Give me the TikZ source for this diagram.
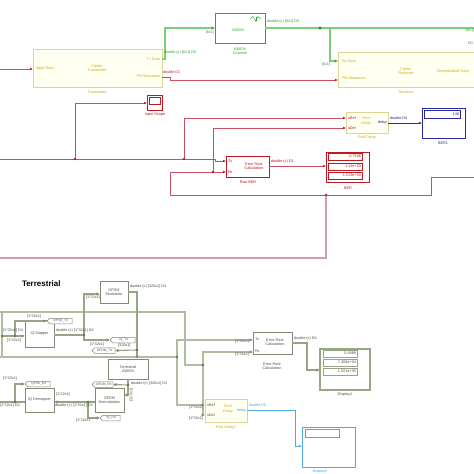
\documentclass[tikz,border=0pt]{standalone}
\usepackage{fontspec}
\setmainfont{Liberation Sans}
\usetikzlibrary{arrows.meta,shapes.symbols}
\definecolor{rln}{RGB}{200,80,100}
\definecolor{rlnl}{RGB}{210,160,172}
\definecolor{rtx}{RGB}{192,24,32}
\definecolor{ybd}{RGB}{222,212,150}
\definecolor{ytx}{RGB}{200,176,20}
\definecolor{yfill}{RGB}{255,255,242}
\definecolor{gln}{RGB}{120,208,120}
\definecolor{gbd}{RGB}{70,150,70}
\definecolor{gtx}{RGB}{48,160,48}
\definecolor{bln}{RGB}{40,40,160}
\definecolor{olvthick}{RGB}{176,190,158}
\definecolor{olvthin}{RGB}{150,166,130}
\definecolor{obd}{RGB}{130,138,118}
\definecolor{otx}{RGB}{80,80,80}
\definecolor{lbl}{RGB}{80,168,224}
\begin{document}
\begin{tikzpicture}[x=1pt,y=-1pt,
  every node/.style={inner sep=0pt, outer sep=0pt},
  lab/.style={font=\fontsize{3.8}{4.4}\selectfont},
  blk/.style={draw, rectangle, line width=0.7pt},
  tipR/.style={-{Latex[length=3pt,width=2.6pt,color=rtx]}},
  tipG/.style={-{Latex[length=3.5pt,width=3.5pt,color=gbd]}},
  tipO/.style={-{Latex[length=3.5pt,width=3.5pt,color=obd]}},
  redwire/.style={draw=rln, line width=0.9pt},
  grnwire/.style={draw=gln, line width=2.2pt},
  olthick/.style={draw=olvthick, line width=2.4pt},
  olthin/.style={draw=olvthin, line width=1.1pt},
  gtag/.style={signal, signal to=west, draw=obd, fill=white, line width=0.5pt, minimum width=25pt, minimum height=5.5pt, font=\fontsize{3.2}{3.6}\selectfont, text=otx},
]
\useasboundingbox (0,0) rectangle (474,474);
\clip (0,0) rectangle (474,474);
\fill[white] (0,0) rectangle (474,474);

%================ TOP SECTION =================
% Transmitter
\node[blk, draw=ybd, fill=yfill, minimum width=129pt, minimum height=38pt] (tx) at (97.5,68) {};
\node[lab, text=ytx, anchor=west] (txi) at (36,69) {Input Data};
\node[lab, text=ytx, align=center] (txc) at (97,68) {Cipher\\Transmitter};
\node[lab, text=ytx, anchor=east] (txo1) at (160,59) {Tx Data};
\node[lab, text=ytx, anchor=east] (txo2) at (160,77) {PN Sequence};
\node[lab, text=ytx] (txl) at (97,92) {Transmitter};
\coordinate (inL) at (0,69);
\coordinate (txIn) at (33,69);
\coordinate (txD) at (162,59);
\coordinate (txP) at (162,77);
\draw[redwire, tipR] (inL) -- (txIn);

% AWGN channel
\node[blk, draw=gbd, fill=white, minimum width=50pt, minimum height=30pt] (awgn) at (240,28) {};
\node[lab, text=gtx] (awgnt) at (238,30) {AWGN};
\draw[gtx, line width=0.4pt] (250,19) -- (253,16.5) -- (255.5,21) -- (258,16.5) -- (261,19);
\draw[gtx, line width=0.4pt, -{Latex[length=1.5pt,width=1.5pt]}] (256,17) -- (256,22);
\node[lab, text=gtx, align=center] (awgnl) at (240,51) {AWGN\\Channel};
\coordinate (awIn) at (215,28);
\coordinate (awOut) at (265,28);
\draw[grnwire, tipG] (txD) -- (165,59) -- (165,28) -- (awIn);
\node[lab, text=gtx, anchor=west] (lb1) at (164,53) {double (c) [6x1] D0};
\node[lab, text=gtx, anchor=east] (lb2) at (214,33) {[6x1]};
\coordinate (j1) at (320,28);
\coordinate (outR) at (474,28);
\coordinate (rxIn) at (338,61);
\draw[grnwire] (awOut) -- (j1) -- (outR);
\draw[grnwire, tipG] (j1) -- (330,28) -- (330,61) -- (rxIn);
\fill[gbd!80!black] (j1) circle (1.6);
\node[lab, text=gtx, anchor=west] (lb3) at (267,22) {double (c) [6x1] D0};
\node[lab, text=gtx, anchor=east] (lb4) at (330,65) {[6x1]};
\node[lab, text=gtx, anchor=west] (lb5) at (466,31) {[6x1]};
\node[lab, text=gtx, anchor=west] (lb6) at (468,43) {D0};

% Receiver
\node[blk, draw=ybd, fill=yfill, minimum width=182pt, minimum height=35pt] (rx) at (429,69.5) {};
\node[lab, text=ytx, anchor=west] (rxi1) at (342,61) {Rx Data};
\node[lab, text=ytx, anchor=west] (rxi2) at (342,79) {PN Sequence};
\node[lab, text=ytx, align=center] (rxc) at (406,71) {Cipher\\Receiver};
\node[lab, text=ytx, anchor=west] (rxo) at (437,71) {Demodulated Data};
\node[lab, text=ytx] (rxl) at (406,92) {Receiver};
\coordinate (rxP) at (338,80);
\draw[redwire, tipR] (txP) -- (170,77) -- (170,80) -- (rxP);
\node[lab, text=rtx, anchor=west] (lb7) at (163,72) {double D1};

% Input scope
\node[blk, draw=rtx, fill=white, minimum width=15pt, minimum height=15pt] (scope) at (154.5,102.5) {};
\draw[rtx, line width=0.4pt] (149,97) rectangle (160,104);
\node[lab, text=rtx] (scopel) at (155,115) {Input Scope};
\coordinate (scIn) at (147,103);

% Tx reference line
\coordinate (inL2) at (0,159);
\coordinate (j2) at (75,159);
\coordinate (j3) at (184,159);
\coordinate (erTx) at (226,161);
\coordinate (erRx) at (226,172);
\coordinate (fdRef) at (346,118);
\coordinate (fdDel) at (346,128);
\draw[redwire, tipR] (inL2) -- (215,159) -- (215,161) -- (erTx);
\draw[redwire, tipR] (j2) |- (scIn);
\draw[redwire, tipR] (j3) |- (fdRef);
% Rx line loop
\coordinate (inR) at (474,177);
\coordinate (j4) at (213,172);
\coordinate (j5) at (326,195);
\coordinate (botL) at (0,258);
\draw[redwire, tipR] (inR) -- (431,177) -- (431,195) -- (170,195) -- (170,172) -- (erRx);
\draw[redwire, tipR] (j4) |- (fdDel);
\draw[draw=rlnl, line width=1.3pt] (j5) |- (botL);
\foreach \p in {j2,j3,j4,j5} \fill[rtx] (\p) circle (1.3);

% Error rate calc (top)
\node[blk, draw=rtx, fill=white, minimum width=43pt, minimum height=21pt] (er) at (247.5,166.5) {};
\node[lab, text=rtx, align=center] (erc) at (254,166) {Error Rate\\Calculation};
\node[lab, text=rtx, anchor=west] (ertx) at (228,161) {Tx};
\node[lab, text=rtx, anchor=west] (errx) at (228,172) {Rx};
\node[lab, text=rtx] (erl) at (248,182) {Raw BER};
\coordinate (erOut) at (269,166);
\coordinate (berIn) at (326,166);
\draw[redwire, tipR] (erOut) -- (berIn);
\node[lab, text=rtx, anchor=west] (lb8) at (271,162) {double (c) D1};

% BER display
\node[blk, draw=rtx, line width=1pt, fill=white, minimum width=43pt, minimum height=30pt] (ber) at (347.5,167) {};
\node[draw=rtx, line width=0.6pt, minimum width=34pt, minimum height=7pt, text width=32pt, align=right, lab, text=rtx] (b1) at (345,156.5) {0.7506};
\node[draw=rtx, line width=0.6pt, minimum width=34pt, minimum height=7pt, text width=32pt, align=right, lab, text=rtx] (b2) at (345,166.5) {1.14e+03};
\node[draw=rtx, line width=0.6pt, minimum width=34pt, minimum height=7pt, text width=32pt, align=right, lab, text=rtx] (b3) at (345,175.5) {1.519e+03};
\node[lab, text=rtx] (berl) at (348,188) {BER};

% Find delay (top)
\node[blk, draw=ybd, fill=yfill, minimum width=42pt, minimum height=21pt] (fd) at (367,122.5) {};
\node[lab, text=rtx, anchor=west] (fdr) at (348,118) {sRef};
\node[lab, text=rtx, anchor=west] (fdd) at (348,128) {sDel};
\node[lab, text=ytx, align=center] (fdc) at (366,121) {Find\\Delay};
\node[lab, text=bln, anchor=east] (fdo) at (387,123) {delay};
\node[lab, text=ytx] (fdl) at (367,138) {Find Delay};
\coordinate (fdOut) at (388,123);
\coordinate (ber1In) at (422,123);
\draw[draw=bln, line width=0.7pt, -{Latex[length=3pt,width=2.6pt]}] (fdOut) -- (ber1In);
\node[lab, text=bln, anchor=west] (lb9) at (390,118) {double D0};
\node[blk, draw=bln, line width=1pt, fill=white, minimum width=43pt, minimum height=30pt] (ber1) at (443.5,123) {};
\node[draw=bln, line width=0.6pt, minimum width=36pt, minimum height=8pt, text width=34pt, align=right, lab, text=bln] (ber1v) at (442,114) {148};
\node[lab, text=bln] (ber1l) at (443,143) {BER1};

%================ BOTTOM SECTION =================
\node[anchor=west, font=\fontsize{8}{9}\selectfont\bfseries] (title) at (22,284) {Terrestrial};

% blocks
\node[blk, draw=obd, fill=white, minimum width=28pt, minimum height=22pt] (ofdm) at (114,292) {};
\node[lab, text=otx, align=center] (ofdmt) at (114,292) {OFDM\\Modulator};
\node[blk, draw=obd, fill=white, minimum width=29pt, minimum height=27pt] (iqm) at (39.5,333.5) {};
\node[lab, text=otx] (iqmt) at (39.5,334) {IQ Mapper};
\node[blk, draw=obd, fill=white, minimum width=40pt, minimum height=20pt] (ch) at (128,369) {};
\node[lab, text=otx, align=center] (cht) at (128,369) {Terrestrial\\AWGN};
\node[blk, draw=obd, fill=white, minimum width=29pt, minimum height=24pt] (dm) at (109.5,400) {};
\node[lab, text=otx, align=center] (dmt) at (109.5,400) {OFDM\\Demodulator};
\node[blk, draw=obd, fill=white, minimum width=29pt, minimum height=24pt] (iqd) at (39.5,400) {};
\node[lab, text=otx] (iqdt) at (39.5,400) {IQ Demapper};

% tags
\node[gtag, anchor=west] (tag1) at (47,321) {QPSK\_TX};
\node[gtag, anchor=west] (tag2) at (110,340) {IQ\_TX};
\node[gtag, anchor=west, minimum width=23pt] (tag3) at (92,350.5) {OFDM\_TX};
\node[gtag, anchor=west, minimum width=21pt] (tag4) at (92,384.5) {OFDM\_RX};
\node[gtag, anchor=west, minimum width=20pt] (tag5) at (100,418) {IQ\_RX};
\node[gtag, anchor=west] (tag6) at (25,384) {QPSK\_RX};

% thick olive wires
\coordinate (oL1) at (0,312);
\coordinate (oL2) at (0,357);
\coordinate (lv1) at (2,312);
\coordinate (lv2) at (2,357);
\coordinate (j6) at (203,365);
\coordinate (j7) at (177,357);
\coordinate (j8) at (2,336);
\coordinate (er2Tx) at (253,340);
\coordinate (er2Rx) at (253,352);
\coordinate (fd2Ref) at (205,405);
\coordinate (fd2Del) at (205,415);
\draw[olthick] (oL1) -- (185,312) -- (185,365) -- (j6);
\draw[olthick, tipO] (j6) |- (er2Rx);
\draw[olthick, tipO] (j6) |- (fd2Del);
\draw[olthick] (oL2) -- (j7);
\draw[olthick, tipO] (j7) |- (er2Tx);
\draw[olthick, tipO] (j7) |- (fd2Ref);
\draw[olthick] (lv1) -- (lv2);

% thin olive wires
\coordinate (iqIn) at (25,336);
\coordinate (j9) at (15,336);
\coordinate (iqOut) at (54,335);
\coordinate (j10) at (84,335);
\coordinate (ofdmIn) at (100,294);
\coordinate (ofdmOut) at (128,292);
\coordinate (chIn) at (137,359);
\coordinate (j11) at (137,350);
\coordinate (chOut) at (128,379);
\coordinate (j12) at (128,385);
\coordinate (dmIn) at (124,395);
\coordinate (dmOut) at (95,402);
\coordinate (iqdIn) at (54,402);
\coordinate (j13) at (88,402);
\coordinate (iqdOut) at (25,402);
\coordinate (oL3) at (0,402);
\coordinate (j14) at (15,402);
\draw[olthin, tipO] (j8) -- (iqIn);
\draw[olthin, tipO] (j9) |- (tag1.west);
\draw[olthin] (iqOut) -- (j10);
\draw[olthin, tipO] (j10) |- (ofdmIn);
\draw[olthin, tipO] (j10) |- (tag2.west);
\draw[olthin, tipO] (ofdmOut) -- (137,292) -- (chIn);
\draw[olthin, tipO] (j11) -- (tag3.east);
\draw[olthin, tipO] (chOut) -- (128,395) -- (dmIn);
\draw[olthin, tipO] (j12) -- (tag4.east);
\draw[olthin, tipO] (dmOut) -- (iqdIn);
\draw[olthin, tipO] (j13) |- (tag5.west);
\draw[olthin] (iqdOut) -- (oL3);
\draw[olthin, tipO] (j14) |- (tag6.west);
\foreach \p in {j6,j7,j8,j9,j10,j11,j12,j13,j14} \fill[obd!80!black] (\p) circle (1.4);

% labels (bottom)
\node[lab, text=otx, anchor=east] (c1) at (23,331) {[1*32x1] D4};
\node[lab, text=otx, anchor=west] (c2) at (7,341) {[1*32x1]};
\node[lab, text=otx, anchor=west] (c3) at (27,317) {[1*32x1]};
\node[lab, text=otx, anchor=west] (c4) at (56,331) {double (c) [1*32x1] D4};
\node[lab, text=otx, anchor=west] (c5) at (86,298) {[1*32x1]};
\node[lab, text=otx, anchor=west] (c6) at (90,345) {[1*32x1]};
\node[lab, text=otx, anchor=west] (c7) at (130,287) {double (c) [320x1] D4};
\node[lab, text=otx, anchor=west] (c8) at (118,346) {[320x1]};
\node[lab, text=otx, anchor=west] (c9) at (131,384) {double (c) [320x1] D4};
\node[lab, text=otx, rotate=90] (c10) at (131.5,395) {[320x1]};
\node[lab, text=otx, anchor=west] (c11) at (56,395) {[1*32x1]};
\node[lab, text=otx, anchor=west] (c12) at (55,406) {double (c) [1*32x1] D4};
\node[lab, text=otx, anchor=west] (c13) at (76,421) {[1*32x1]};
\node[lab, text=otx, anchor=west] (c14) at (3,379) {[1*32x1]};
\node[lab, text=otx, anchor=west] (c15) at (0,406) {[1*32x1] D4};
\node[lab, text=otx, anchor=east] (c16) at (249,342) {[1*32x1]};
\node[lab, text=otx, anchor=east] (c17) at (249,355) {[1*32x1]};
\node[lab, text=otx, anchor=east] (c18) at (203,408) {[1*32x1]};
\node[lab, text=otx, anchor=east] (c19) at (203,419) {[1*32x1]};

% Error rate calc (bottom)
\node[blk, draw=obd, fill=white, minimum width=39pt, minimum height=22pt] (er2) at (272.5,343) {};
\node[lab, text=otx, align=center] (er2c) at (275,342) {Error Rate\\Calculation};
\node[lab, text=otx, anchor=west] (er2t) at (255,339) {Tx};
\node[lab, text=otx, anchor=west] (er2r) at (255,351) {Rx};
\node[lab, text=otx, align=center] (er2l) at (272,366) {Error Rate\\Calculation};
\coordinate (er2Out) at (292,343);
\coordinate (d1In) at (320,370);
\draw[olthin, tipO] (er2Out) -- (307,343) -- (307,370) -- (d1In);
\node[lab, text=otx, anchor=west] (c20) at (294,339) {double (c) D4};

% Display1
\node[blk, draw=olvthin, line width=1.1pt, fill=white, minimum width=50pt, minimum height=41pt] (d1) at (345,369.5) {};
\node[draw=olvthin, line width=0.8pt, minimum width=34pt, minimum height=7pt, text width=32pt, align=right, lab, text=otx] (d1a) at (340,353.5) {0.4989};
\node[draw=olvthin, line width=0.8pt, minimum width=34pt, minimum height=7pt, text width=32pt, align=right, lab, text=otx] (d1b) at (340,362.5) {7.308e+04};
\node[draw=olvthin, line width=0.8pt, minimum width=34pt, minimum height=7pt, text width=32pt, align=right, lab, text=otx] (d1c) at (340,371.5) {1.521e+05};
\node[lab, text=otx] (d1l) at (345,395) {Display1};

% Find delay1
\node[blk, draw=ybd, fill=yfill, minimum width=42pt, minimum height=23pt] (fd2) at (226,410.5) {};
\node[lab, text=otx, anchor=west] (fd2r) at (207,405) {sRef};
\node[lab, text=otx, anchor=west] (fd2d) at (207,415) {sDel};
\node[lab, text=ytx, align=center] (fd2c) at (228,409) {Find\\Delay};
\node[lab, text=lbl, anchor=east] (fd2o) at (246,411) {delay};
\node[lab, text=ytx] (fd2l) at (226,428) {Find Delay1};
\coordinate (fd2Out) at (247,410);
\coordinate (d2In) at (302,446);
\draw[draw=lbl, line width=0.7pt, -{Latex[length=3pt,width=2.6pt]}] (fd2Out) -- (295,410) -- (295,446) -- (d2In);
\node[lab, text=lbl, anchor=west] (c21) at (249,405) {double D0};

% Display2
\node[blk, draw=lbl, line width=1pt, fill=white, minimum width=53pt, minimum height=40pt] (d2) at (328.5,447) {};
\node[draw=lbl, line width=0.6pt, minimum width=34pt, minimum height=8pt] (d2v) at (322,433) {};
\node[lab, text=lbl] (d2l) at (320,472) {Display2};
\end{tikzpicture}
\end{document}
